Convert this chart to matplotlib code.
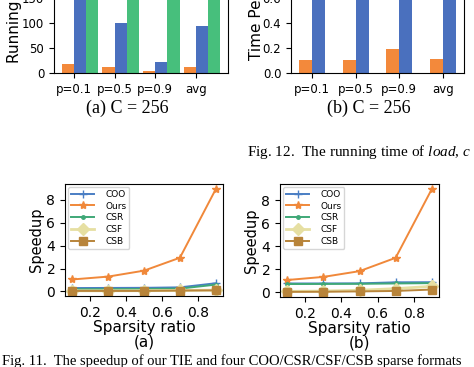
import numpy as np
import matplotlib
matplotlib.use("Agg")
import matplotlib.pyplot as plt

# --- data ---
groups = ["p=0.1", "p=0.5", "p=0.9", "avg"]
run_load = [19, 13, 5, 13]
run_compute = [160, 100, 22, 94]
run_other = [250, 240, 235, 242]   # cut off at the top of the crop
pct_load = [0.105, 0.105, 0.19, 0.115]
pct_compute = [0.895, 0.895, 0.81, 0.885]

sparsity = [0.1, 0.3, 0.5, 0.7, 0.9]
coo_a = [0.30, 0.31, 0.32, 0.36, 0.72]
ours_a = [1.05, 1.30, 1.82, 2.95, 8.95]
csr_a = [0.20, 0.20, 0.22, 0.25, 0.60]
csf_a = [0.06, 0.06, 0.07, 0.09, 0.12]
csb_a = [0.05, 0.05, 0.05, 0.08, 0.10]

coo_b = [0.75, 0.75, 0.76, 0.85, 0.86]
ours_b = [1.05, 1.32, 1.82, 2.98, 8.95]
csr_b = [0.70, 0.71, 0.72, 0.75, 0.78]
csf_b = [0.06, 0.09, 0.16, 0.30, 0.50]
csb_b = [0.02, 0.03, 0.06, 0.10, 0.22]

ORANGE = "#f3893b"
BLUE = "#4a70be"
GREEN = "#47bf7c"

W, H = 474, 367
fig = plt.figure(figsize=(W / 100, H / 100), dpi=100)
plt.rcParams['mathtext.fontset'] = 'custom'
plt.rcParams['mathtext.it'] = 'Liberation Serif:italic'
plt.rcParams['mathtext.rm'] = 'Liberation Serif'


def px_axes(x0, x1, y0, y1):
    # pixel box (top-left origin) -> figure fraction
    return fig.add_axes([x0 / W, 1 - y1 / H, (x1 - x0) / W, (y1 - y0) / H])


w = 0.3
x = np.arange(len(groups))

# top left: running time bars
ax1 = px_axes(54, 228, -77, 73)
ax1.bar(x - w / 2, run_load, w, color=ORANGE)
ax1.bar(x + w / 2, run_compute, w, color=BLUE)
ax1.bar(x + 3 * w / 2, run_other, w, color=GREEN)
ax1.set_ylim(0, 300)
ax1.set_yticks([0, 50, 100, 150])
ax1.set_xticks(x)
ax1.set_xticklabels(groups)
ax1.tick_params(labelsize=8.5)
fig.text(15 / W, 1 - 63 / H, "Running Time (ms)", rotation=90, ha="center",
         va="bottom", fontsize=11)

# top right: time percentage bars
ax2 = px_axes(291, 464, -44.5, 73)
ax2.bar(x - w / 2, pct_load, w, color=ORANGE)
ax2.bar(x + w / 2, pct_compute, w, color=BLUE)
ax2.set_ylim(0, 0.94)
ax2.set_yticks([0.0, 0.2, 0.4, 0.6])
ax2.set_xticks(x)
ax2.set_xticklabels(groups)
ax2.tick_params(labelsize=8.5)
fig.text(257 / W, 1 - 60 / H, "Time Percentage", rotation=90, ha="center",
         va="bottom", fontsize=11)

fig.text(127 / W, 1 - 108 / H, "(a) C = 256", ha="center", va="center",
         family="Liberation Serif", fontsize=13)
fig.text(369 / W, 1 - 108 / H, "(b) C = 256", ha="center", va="center",
         family="Liberation Serif", fontsize=13)
fig.text(247 / W, 1 - 152 / H,
         r"Fig. 12.  The running time of $\mathit{load}$, $\mathit{c}$",
         ha="left", va="center", family="Liberation Serif", fontsize=11)


def speedup(ax, coo, ours, csr, csf, csb, tag):
    ax.plot(sparsity, coo, color="#4a7ec4", marker="+", ms=6, lw=1.4, label="COO")
    ax.plot(sparsity, ours, color="#f0883a", marker="*", ms=6, lw=1.4, label="Ours")
    ax.plot(sparsity, csr, color="#3fa877", marker=".", ms=5, lw=1.4, label="CSR")
    ax.plot(sparsity, csf, color="#e6dfa2", marker="D", ms=6, lw=2, label="CSF")
    ax.plot(sparsity, csb, color="#b8843a", marker="s", ms=6, lw=1.4, label="CSB")
    ax.set_yticks([0, 2, 4, 6, 8])
    ax.set_xticks([0.2, 0.4, 0.6, 0.8])
    ax.tick_params(labelsize=10)
    ax.set_xlabel("Sparsity ratio\n" + tag, fontsize=11, labelpad=0, linespacing=0.95)
    ax.set_ylabel("Speedup", fontsize=10.5, labelpad=2)
    ax.legend(loc="upper left", fontsize=6.5, handlelength=2.6, labelspacing=0.3,
              borderpad=0.35, handletextpad=1.2, borderaxespad=0.3)


ax3 = px_axes(65, 223, 184, 296)
speedup(ax3, coo_a, ours_a, csr_a, csf_a, csb_a, "(a)")
ax4 = px_axes(280, 439, 184, 297)
speedup(ax4, coo_b, ours_b, csr_b, csf_b, csb_b, "(b)")

fig.text(2 / W, 1 - 361 / H,
         "Fig. 11.  The speedup of our TIE and four COO/CSR/CSF/CSB sparse formats",
         ha="left", va="center", family="Liberation Serif", fontsize=10.5)

fig.savefig("out.png", dpi=100)
